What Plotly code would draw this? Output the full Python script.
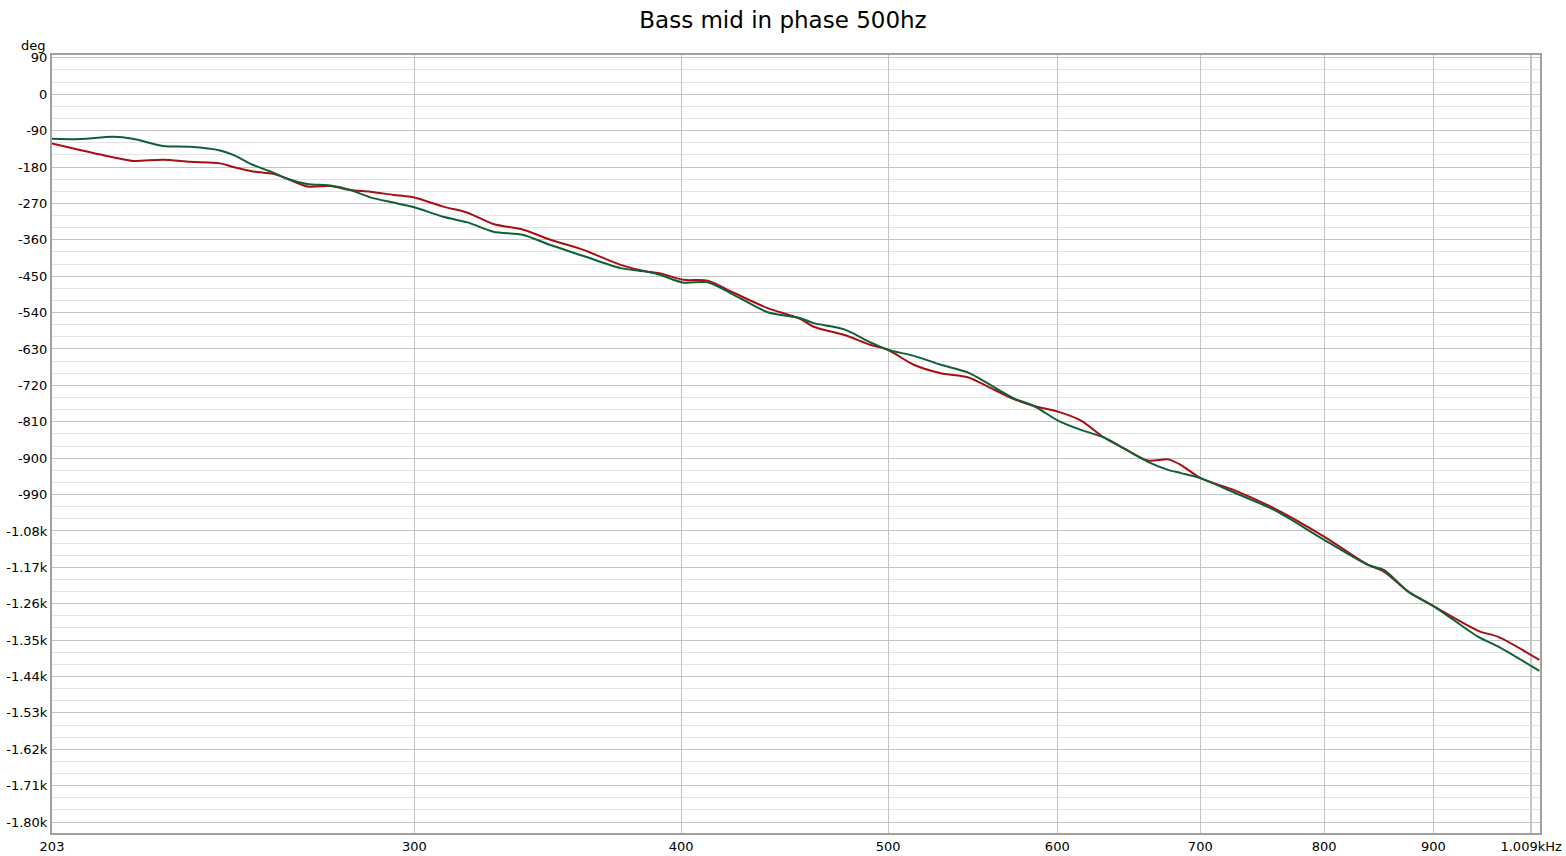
import numpy as np
import plotly.graph_objects as go

# frequency points (Hz)
freq = [203.0, 209.2, 216.8, 221.5, 228.8, 235.6, 243.3, 246.8, 252.2, 257.7,
        261.6, 267.3, 274.0, 280.0, 286.1, 293.3, 299.7, 309.5, 317.7, 326.7,
        337.4, 347.4, 360.0, 374.7, 385.8, 391.2, 401.0, 411.6, 423.3, 439.1,
        455.0, 461.4, 476.6, 490.7, 499.8, 514.0, 529.2, 544.8, 556.7, 572.6,
        585.1, 600.4, 615.5, 631.0, 644.7, 661.6, 676.1, 685.6, 700.6, 726.0,
        758.0, 800.0, 838.9, 853.5, 875.9, 900.8, 944.6, 965.2, 1008.9]

# phase in degrees, red trace
phase_red = [-122, -138, -156, -165, -162, -167, -171, -180, -191, -197,
             -209, -228, -227, -237, -241, -249, -255, -278, -293, -321,
             -335, -360, -385, -422, -439, -443, -459, -461, -491, -529,
             -556, -575, -595, -620, -632, -669, -690, -700, -723, -754,
             -771, -785, -807, -849, -876, -906, -903, -917, -950, -979,
             -1024, -1094, -1164, -1181, -1230, -1267, -1327, -1342, -1399]

# phase in degrees, green trace
phase_green = [-110, -111, -105, -110, -128, -130, -139, -150, -175, -194,
               -209, -222, -226, -237, -255, -268, -279, -303, -317, -340,
               -348, -373, -400, -430, -439, -447, -466, -465, -496, -539,
               -554, -566, -581, -614, -632, -647, -669, -688, -715, -752,
               -771, -807, -830, -849, -876, -909, -929, -937, -950, -985,
               -1028, -1102, -1164, -1177, -1230, -1267, -1342, -1366, -1426]

# the end label sits under the 1 kHz line in the original
x_ticks = [203, 300, 400, 500, 600, 700, 800, 900, 1000]
x_labels = ['203', '300', '400', '500', '600', '700', '800', '900', '1.009kHz']

y_ticks = list(range(90, -1801, -90))
def fmt(v):
    if abs(v) >= 1000:
        return '%.2fk' % (v / 1000.0)
    return str(v)
y_labels = [fmt(v) for v in y_ticks]

fig = go.Figure()
fig.add_trace(go.Scatter(x=freq, y=phase_red, mode='lines',
                         line=dict(color='#a80f12', width=2, shape='spline', smoothing=0.8),
                         name='red'))
fig.add_trace(go.Scatter(x=freq, y=phase_green, mode='lines',
                         line=dict(color='#0f6038', width=2, shape='spline', smoothing=0.8),
                         name='green'))

fig.update_layout(
    width=1566, height=856,
    margin=dict(l=52, r=26, t=55, b=23, autoexpand=False),
    paper_bgcolor='white',
    plot_bgcolor='white',
    showlegend=False,
    font=dict(family='DejaVu Sans', size=13, color='black'),
    title=dict(text='Bass mid in phase 500hz', x=0.5, xanchor='center',
               y=0.977, yanchor='middle',
               font=dict(family='DejaVu Sans', size=23, color='black')),
    xaxis=dict(
        type='log',
        range=[np.log10(203), np.log10(1009.6)],
        tickvals=x_ticks, ticktext=x_labels,
        showgrid=True, gridcolor='#c4c4c4', gridwidth=1,
        showline=True, linecolor='#a0a0a0', linewidth=2, mirror=True,
        ticks='', zeroline=False, automargin=False,
        tickfont=dict(size=13),
    ),
    yaxis=dict(
        range=[-1827, 97],
        tickvals=y_ticks, ticktext=y_labels,
        showgrid=True, gridcolor='#c4c4c4', gridwidth=1,
        minor=dict(dtick=30, tick0=0, showgrid=True, gridcolor='#e2e2e2', gridwidth=1),
        showline=True, linecolor='#a0a0a0', linewidth=2, mirror=True,
        ticks='', zeroline=False, automargin=False,
        tickfont=dict(size=13),
    ),
)

# darker decade line at 1 kHz
fig.add_vline(x=1000, line=dict(color='#6a6a6a', width=1), layer='below')

fig.add_annotation(text='deg', xref='paper', yref='paper', x=-0.003, y=1.0,
                   xanchor='right', yanchor='bottom', showarrow=False,
                   font=dict(size=13, color='black'))

# drop the default body margin so the figure fills the window
fig.write_html("out.html", config={'displayModeBar': False},
               post_script="document.body.style.margin='0';")
